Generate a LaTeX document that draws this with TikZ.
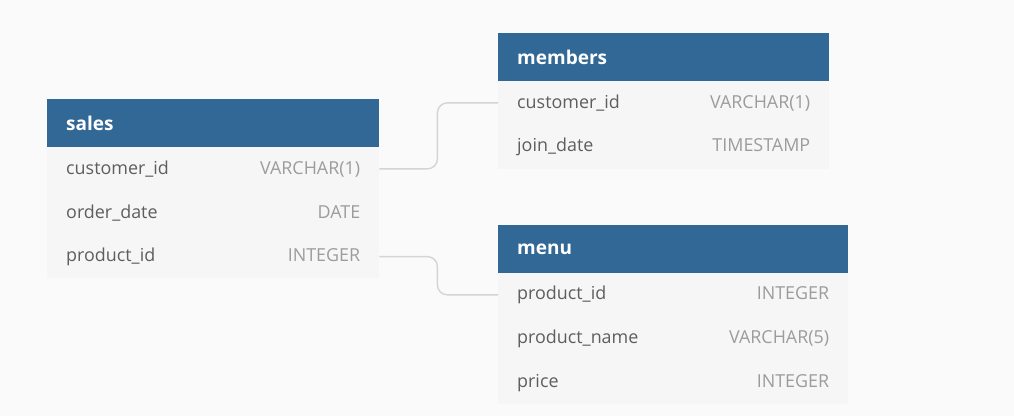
\documentclass[tikz,border=0pt]{standalone}
\usepackage{fontspec}
\setmainfont{Open Sans}
\usetikzlibrary{positioning}

\definecolor{bg}{HTML}{FAFAFA}
\definecolor{headblue}{HTML}{316895}
\definecolor{body}{HTML}{F6F6F6}
\definecolor{colname}{HTML}{5E5E5E}
\definecolor{coltype}{HTML}{9C9C9C}
\definecolor{link}{HTML}{D4D4D4}

\newcommand{\fld}[2]{\textcolor{colname}{#1}\hfill\textcolor{coltype}{#2}}

\begin{document}
\begin{tikzpicture}[
        x=1pt, y=-1pt,
        head/.style={fill=headblue, text=white, anchor=north west,
            font=\bfseries\fontsize{19}{19}\selectfont,
            minimum height=47.5pt, inner xsep=19pt, inner ysep=0pt},
        row/.style={fill=body, below=0pt of #1,
            font=\fontsize{17.9}{18}\selectfont,
            minimum height=43.5pt, inner xsep=19pt, inner ysep=0pt},
        relation/.style={draw=link, line width=1.4pt, rounded corners=10pt},
    ]
    \fill[bg] (0, 0) rectangle (1014, 416);

    % sales
    \node[head, text width=294pt] (sales) at (47, 99) {sales};
    \node[row=sales, text width=294pt] (s1) {\fld{customer\_id}{VARCHAR(1)}};
    \node[row=s1, text width=294pt] (s2) {\fld{order\_date}{DATE}};
    \node[row=s2, text width=294pt] (s3) {\fld{product\_id}{INTEGER}};

    % members
    \node[head, text width=293pt] (members) at (498, 33) {members};
    \node[row=members, text width=293pt] (m1) {\fld{customer\_id}{VARCHAR(1)}};
    \node[row=m1, text width=293pt] (m2) {\fld{join\_date}{TIMESTAMP}};

    % menu
    \node[head, text width=312pt] (menu) at (498, 225) {menu};
    \node[row=menu, text width=312pt] (p1) {\fld{product\_id}{INTEGER}};
    \node[row=p1, text width=312pt] (p2) {\fld{product\_name}{VARCHAR(5)}};
    \node[row=p2, text width=312pt] (p3) {\fld{price}{INTEGER}};

    \draw[relation] (s1.east) -- ++(58, 0) |- (m1.west);
    \draw[relation] (s3.east) -- ++(58, 0) |- (p1.west);

\end{tikzpicture}
\end{document}
